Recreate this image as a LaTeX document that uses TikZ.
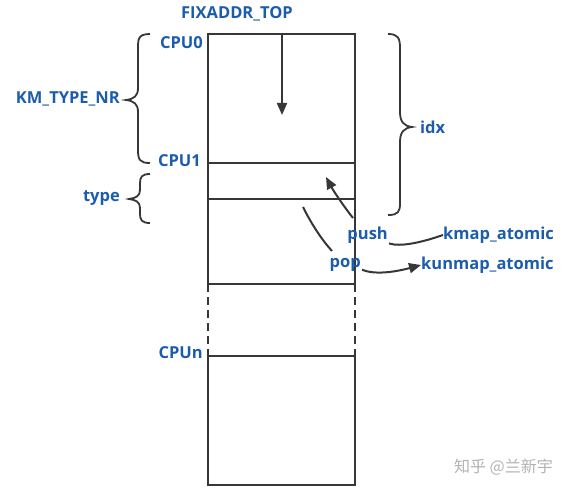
\documentclass[tikz,border=0pt]{standalone}
\usepackage{fontspec}
\setmainfont{Open Sans}
\newfontfamily\cjk{Noto Sans CJK SC}
\usetikzlibrary{arrows.meta}
\definecolor{lblue}{RGB}{28,92,172}
\definecolor{lgray}{RGB}{55,55,55}
\tikzset{
  lbl/.style={text=lblue, font=\fontsize{16.5}{19}\selectfont\bfseries, inner sep=0pt},
  ln/.style={draw=lgray, line width=2pt},
  arr/.style={ln, -{Triangle[length=12pt,width=10pt]}},
}
\begin{document}
\begin{tikzpicture}[x=1pt,y=-1pt]
\useasboundingbox (0,0) rectangle (569,497);
% stack
\coordinate (tl) at (208,34); \coordinate (tr) at (355,34);
\coordinate (a1) at (208,284); \coordinate (a2) at (355,284);
\coordinate (b1) at (208,356); \coordinate (b2) at (355,356);
\coordinate (bl) at (208,485); \coordinate (br) at (355,485);
\draw[ln] (a1) -- (tl) -- (tr) -- (a2);
\draw[ln] (b1) -- (bl) -- (br) -- (b2);
\draw[ln] (a1) -- (a2);
\draw[ln] (b1) -- (b2);
\draw[ln, dash pattern=on 8pt off 5pt] (a1) -- (b1);
\draw[ln, dash pattern=on 8pt off 5pt] (a2) -- (b2);
\coordinate (c1l) at (208,163); \coordinate (c1r) at (355,163);
\coordinate (c2l) at (208,199); \coordinate (c2r) at (355,199);
\draw[ln] (c1l) -- (c1r);
\draw[ln] (c2l) -- (c2r);
% labels
\node[lbl] (fix) at (237,14) {FIXADDR\_TOP};
\node[lbl, anchor=east] (cpu0) at (203,43) {CPU0};
\node[lbl, anchor=east] (cpu1) at (201,161) {CPU1};
\node[lbl, anchor=east] (cpun) at (203,353) {CPUn};
\node[lbl, anchor=east] (kmnr) at (120,99) {KM\_TYPE\_NR};
\node[lbl, anchor=east] (type) at (120,198) {type};
\node[lbl, anchor=west] (idx) at (420,127) {idx};
\node[lbl, anchor=east] (push) at (388,235) {push};
\node[lbl, anchor=east] (pop) at (361,265) {pop};
\node[lbl, anchor=west] (kmap) at (443,235) {kmap\_atomic};
\node[lbl, anchor=west] (kunmap) at (421,265) {kunmap\_atomic};
\node[text=black!30, font=\cjk\fontsize{16}{19}\selectfont, anchor=east, inner sep=0pt] (wm) at (553,467) {知乎 @兰新宇};
% arrow down
\coordinate (ds) at (282,34); \coordinate (de) at (282,115);
\draw[arr] (ds) -- (de);
% braces
\draw[ln, line width=1.8pt] (150,34) .. controls (137,34) and (138,40) .. (138,52)
  -- (138,88) .. controls (138,96) and (134,99) .. (126,100)
  .. controls (134,101) and (138,104) .. (138,112)
  -- (138,150) .. controls (138,160) and (140,163) .. (150,163);
\draw[ln, line width=1.8pt] (150,174) .. controls (142,174) and (140,177) .. (140,183)
  -- (140,190) .. controls (140,196) and (136,198) .. (129,199)
  .. controls (136,200) and (140,202) .. (140,208)
  -- (140,214) .. controls (140,220) and (142,223) .. (150,223);
\draw[ln, line width=1.8pt] (388,34) .. controls (398,34) and (400,38) .. (400,48)
  -- (400,112) .. controls (400,122) and (404,126) .. (412,127)
  .. controls (404,128) and (400,132) .. (400,142)
  -- (400,203) .. controls (400,212) and (398,215) .. (388,215);
% push / pop arrows
\coordinate (ps) at (353,218); \coordinate (pe) at (326,177);
\draw[arr] (ps) .. controls (342,204) and (333,190) .. (pe);
\coordinate (os) at (303,207); \coordinate (oe) at (332,251);
\draw[ln] (os) .. controls (312,225) and (322,240) .. (oe);
\draw[ln] (push.south east) ++(1,0) coordinate (pk) .. controls (400,247) and (420,243) .. (kmap.west);
\draw[arr] (pop.south east) ++(1,-2) coordinate (pu) .. controls (375,275) and (395,272) .. (kunmap.west);
\end{tikzpicture}
\end{document}
